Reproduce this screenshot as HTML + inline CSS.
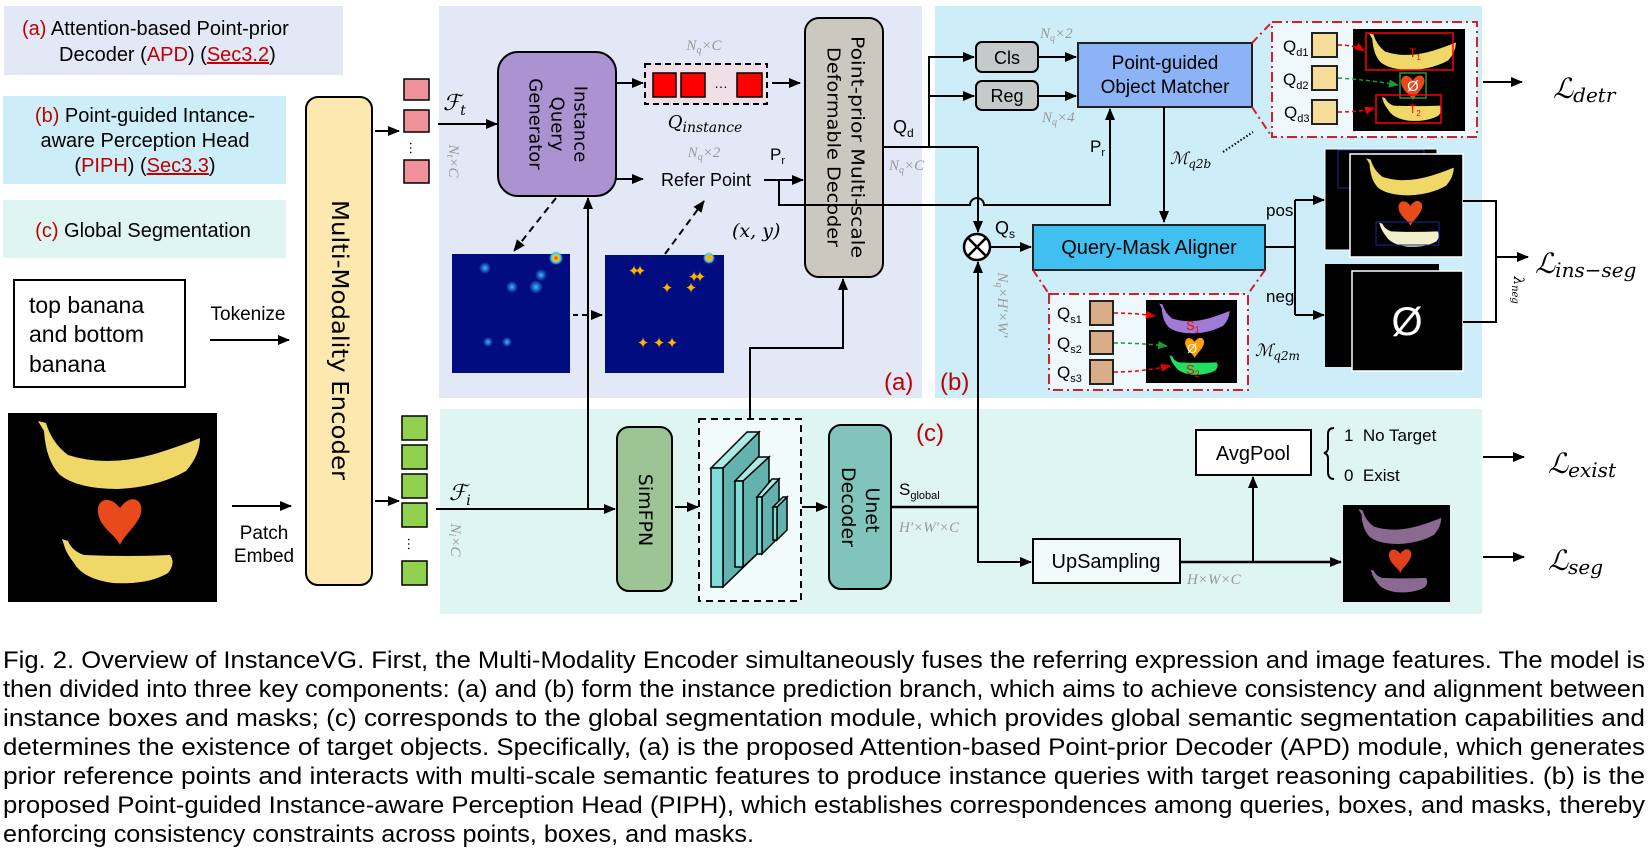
<!DOCTYPE html>
<html><head><meta charset="utf-8"><style>
html,body{margin:0;padding:0;background:#fff;}
svg{display:block;}
.c{font-family:"Liberation Sans","DejaVu Sans",sans-serif;}
.v{font-family:"DejaVu Sans","Liberation Sans",sans-serif;}
.g{font-family:"Liberation Serif","DejaVu Serif",serif;font-style:italic;fill:#999;font-size:15px;}
.m{font-family:"DejaVu Serif","Liberation Serif",serif;}
</style></head><body>
<svg width="1648" height="849" viewBox="0 0 1648 849" xmlns="http://www.w3.org/2000/svg">
<defs>
<marker id="a" markerWidth="12" markerHeight="10" refX="11" refY="5" orient="auto" markerUnits="userSpaceOnUse"><path d="M0,0 L12,5 L0,10 Z" fill="#000"/></marker>
<marker id="ar" markerWidth="10" markerHeight="8" refX="9" refY="4" orient="auto" markerUnits="userSpaceOnUse"><path d="M0,0 L10,4 L0,8 Z" fill="#e00"/></marker>
<marker id="ag" markerWidth="10" markerHeight="8" refX="9" refY="4" orient="auto" markerUnits="userSpaceOnUse"><path d="M0,0 L10,4 L0,8 Z" fill="#1a9a3a"/></marker>
<symbol id="ban" viewBox="0 0 209 189" preserveAspectRatio="none">
<rect width="209" height="189" fill="#000"/>
<path d="M30,8 L38,10 Q44,30 60,42 Q100,55 150,40 Q175,32 192,25 Q192,42 178,58 Q150,74 110,76 Q70,76 52,62 Q38,48 36,18 Z" style="fill:var(--t,#f0d868)"/>
<path d="M112,95 C100,80 88,88 90,100 C92,115 108,122 112,132 C116,122 130,112 133,100 C136,86 122,80 112,95 Z" style="fill:var(--h,#e84a1c)"/>
<path d="M54,126 L60,128 Q64,138 76,142 Q120,144 162,142 Q168,150 160,160 Q140,172 105,170 Q75,166 66,150 Q58,140 56,132 Z" style="fill:var(--b,#f0d868)"/>
</symbol>
<radialGradient id="sp"><stop offset="0" stop-color="#3fb8ff"/><stop offset="1" stop-color="#3fb8ff" stop-opacity="0"/></radialGradient>
<radialGradient id="hot"><stop offset="0" stop-color="#ff2000"/><stop offset="0.4" stop-color="#ffd000"/><stop offset="0.7" stop-color="#30c0ff"/><stop offset="1" stop-color="#30c0ff" stop-opacity="0"/></radialGradient>
</defs>

<rect x="4" y="6" width="339" height="69" fill="#e2e8f5"/>
<text class="c" font-size="20" x="22" y="35"><tspan fill="#c00000">(a)</tspan> Attention-based Point-prior</text>
<text class="c" font-size="20" x="59" y="61">Decoder (<tspan fill="#c00000">APD</tspan>) (<tspan fill="#c00000" text-decoration="underline">Sec3.2</tspan>)</text>
<rect x="3" y="96" width="283" height="88" fill="#cdeef9"/>
<text class="c" font-size="20" x="145" y="122" text-anchor="middle"><tspan fill="#c00000">(b)</tspan> Point-guided Intance-</text>
<text class="c" font-size="20" x="145" y="147" text-anchor="middle">aware Perception Head</text>
<text class="c" font-size="20" x="145" y="172" text-anchor="middle">(<tspan fill="#c00000">PIPH</tspan>) (<tspan fill="#c00000" text-decoration="underline">Sec3.3</tspan>)</text>
<rect x="3" y="200" width="283" height="58" fill="#def5f2"/>
<text class="c" font-size="20" x="143" y="237" text-anchor="middle"><tspan fill="#c00000">(c)</tspan> Global Segmentation</text>

<rect x="14" y="280" width="171" height="107" fill="#fff" stroke="#000" stroke-width="2"/>
<text class="c" font-size="23" x="29" y="313">top banana</text>
<text class="c" font-size="23" x="29" y="342">and bottom</text>
<text class="c" font-size="23" x="29" y="372">banana</text>
<text class="c" font-size="19" x="248" y="320" text-anchor="middle">Tokenize</text>
<line x1="210" y1="340" x2="289" y2="340" stroke="#000" stroke-width="2" marker-end="url(#a)"/>
<use href="#ban" x="8" y="413" width="209" height="189"/>
<text class="c" font-size="19" x="264" y="539" text-anchor="middle">Patch</text>
<text class="c" font-size="19" x="264" y="562" text-anchor="middle">Embed</text>
<line x1="232" y1="506" x2="291" y2="506" stroke="#000" stroke-width="2" marker-end="url(#a)"/>

<rect x="306" y="97" width="66" height="488" rx="12" fill="#fde8b0" stroke="#000" stroke-width="2"/>
<text class="v" font-size="23" transform="translate(339,340) rotate(90)" text-anchor="middle" dominant-baseline="central" textLength="280" lengthAdjust="spacingAndGlyphs">Multi-Modality Encoder</text>

<rect x="439" y="6" width="483" height="392" fill="#e2e8f5"/>
<rect x="935" y="6" width="547" height="392" fill="#cdeef9"/>
<rect x="440" y="409" width="1042" height="205" fill="#def5f2"/>

<line x1="375" y1="131" x2="399" y2="131" stroke="#000" stroke-width="2" marker-end="url(#a)"/>
<rect x="404" y="79" width="25" height="21" fill="#ef929a" stroke="#000" stroke-width="1.5"/>
<rect x="404" y="110" width="25" height="22" fill="#ef929a" stroke="#000" stroke-width="1.5"/>
<text x="416" y="154" font-size="14" text-anchor="middle" transform="rotate(90,416,148)" class="c">…</text>
<rect x="404" y="160" width="25" height="23" fill="#ef929a" stroke="#000" stroke-width="1.5"/>
<line x1="375" y1="501" x2="399" y2="501" stroke="#000" stroke-width="2" marker-end="url(#a)"/>
<rect x="402" y="416" width="25" height="24" fill="#92d050" stroke="#000" stroke-width="1.5"/>
<rect x="402" y="445" width="25" height="24" fill="#92d050" stroke="#000" stroke-width="1.5"/>
<rect x="402" y="474" width="25" height="24" fill="#92d050" stroke="#000" stroke-width="1.5"/>
<rect x="402" y="503" width="25" height="24" fill="#92d050" stroke="#000" stroke-width="1.5"/>
<text x="414" y="550" font-size="14" text-anchor="middle" transform="rotate(90,414,544)" class="c">…</text>
<rect x="402" y="561" width="25" height="24" fill="#92d050" stroke="#000" stroke-width="1.5"/>

<text class="m" font-size="22" x="443" y="110" font-style="italic">ℱ<tspan font-size="14" dy="5">t</tspan></text>
<line x1="438" y1="124" x2="497" y2="124" stroke="#000" stroke-width="2" marker-end="url(#a)"/>
<text class="g" transform="translate(453,161) rotate(90)" text-anchor="middle" dominant-baseline="central">N<tspan font-size="10" dy="3">t</tspan><tspan dy="-3">×C</tspan></text>
<text class="m" font-size="22" x="449" y="500" font-style="italic">ℱ<tspan font-size="14" dy="5">i</tspan></text>
<text class="g" transform="translate(455,540) rotate(90)" text-anchor="middle" dominant-baseline="central">N<tspan font-size="10" dy="3">i</tspan><tspan dy="-3">×C</tspan></text>

<rect x="498" y="52" width="118" height="144" rx="20" fill="#ab92d0" stroke="#000" stroke-width="2"/>
<text class="v" font-size="18" transform="translate(580,124) rotate(90)" text-anchor="middle" dominant-baseline="central">Instance</text>
<text class="v" font-size="18" transform="translate(557,124) rotate(90)" text-anchor="middle" dominant-baseline="central">Query</text>
<text class="v" font-size="18" transform="translate(535,124) rotate(90)" text-anchor="middle" dominant-baseline="central">Generator</text>
<line x1="616" y1="83" x2="643" y2="83" stroke="#000" stroke-width="2" marker-end="url(#a)"/>
<line x1="616" y1="179" x2="643" y2="179" stroke="#000" stroke-width="2" marker-end="url(#a)"/>
<rect x="645" y="64" width="122" height="40" fill="#f1dfe8" stroke="#000" stroke-width="2" stroke-dasharray="6,4"/>
<rect x="653" y="73" width="23" height="24" fill="#f00" stroke="#000" stroke-width="1.5"/>
<rect x="681" y="73" width="24" height="24" fill="#f00" stroke="#000" stroke-width="1.5"/>
<text class="c" font-size="14" x="721" y="88" text-anchor="middle">…</text>
<rect x="737" y="73" width="25" height="24" fill="#f00" stroke="#000" stroke-width="1.5"/>
<line x1="772" y1="83" x2="800" y2="83" stroke="#000" stroke-width="2" marker-end="url(#a)"/>
<text class="g" x="704" y="50" text-anchor="middle">N<tspan font-size="10" dy="3">q</tspan><tspan dy="-3">×C</tspan></text>
<text class="m" font-size="18" x="705" y="128" text-anchor="middle" font-style="italic">Q<tspan font-size="14" dy="4">instance</tspan></text>
<text class="g" x="704" y="157" text-anchor="middle">N<tspan font-size="10" dy="3">q</tspan><tspan dy="-3">×2</tspan></text>
<text class="c" font-size="18" x="706" y="186" text-anchor="middle">Refer Point</text>
<text class="c" font-size="17" x="770" y="160">P<tspan font-size="11" dy="4">r</tspan></text>

<rect x="452" y="254" width="118" height="119" fill="#000c80"/>
<circle cx="485" cy="268" r="6" fill="url(#sp)"/><circle cx="541" cy="275" r="6" fill="url(#sp)"/>
<circle cx="512" cy="287" r="6" fill="url(#sp)"/><circle cx="536" cy="287" r="7" fill="url(#sp)"/>
<circle cx="556" cy="258" r="7" fill="url(#hot)"/>
<circle cx="488" cy="342" r="5" fill="url(#sp)"/><circle cx="507" cy="342" r="5" fill="url(#sp)"/>
<rect x="605" y="255" width="119" height="118" fill="#000c80"/>
<circle cx="709" cy="258" r="6" fill="url(#hot)"/>
<g fill="#ffb000" font-size="15" text-anchor="middle" class="v">
<text x="640" y="276">✦</text><text x="694" y="282">✦</text><text x="667" y="293">✦</text><text x="691" y="293">✦</text><text x="709" y="263">✦</text><text x="700" y="282">✦</text><text x="634" y="276">✦</text>
<text x="643" y="348">✦</text><text x="659" y="348">✦</text><text x="672" y="348">✦</text></g>
<line x1="556" y1="198" x2="514" y2="251" stroke="#000" stroke-width="2" stroke-dasharray="7,5" marker-end="url(#a)"/>
<line x1="665" y1="254" x2="704" y2="201" stroke="#000" stroke-width="2" stroke-dasharray="7,5" marker-end="url(#a)"/>
<line x1="573" y1="315" x2="602" y2="315" stroke="#000" stroke-width="2" stroke-dasharray="5,4" marker-end="url(#a)"/>
<text class="m" font-size="19" x="732" y="237" font-style="italic">(x, y)</text>

<rect x="805" y="18" width="78" height="259" rx="14" fill="#cbc9bf" stroke="#000" stroke-width="2"/>
<text class="v" font-size="18" transform="translate(857,147) rotate(90)" text-anchor="middle" dominant-baseline="central" textLength="222" lengthAdjust="spacingAndGlyphs">Point-prior Multi-scale</text>
<text class="v" font-size="18" transform="translate(833,147) rotate(90)" text-anchor="middle" dominant-baseline="central" textLength="200" lengthAdjust="spacingAndGlyphs">Deformable Decoder</text>
<line x1="764" y1="180" x2="803" y2="180" stroke="#000" stroke-width="2" marker-end="url(#a)"/>
<path d="M779,180 V205 H970 A7,7 0 0 1 984,205 H1110 V109" fill="none" stroke="#000" stroke-width="2" marker-end="url(#a)"/>

<line x1="436" y1="509" x2="615" y2="509" stroke="#000" stroke-width="2" marker-end="url(#a)"/>
<line x1="588" y1="509" x2="588" y2="198" stroke="#000" stroke-width="2" marker-end="url(#a)"/>
<path d="M750,419 V348 H843 V279" fill="none" stroke="#000" stroke-width="2" marker-end="url(#a)"/>

<rect x="617" y="427" width="55" height="164" rx="12" fill="#9cc495" stroke="#000" stroke-width="2"/>
<text class="v" font-size="19" transform="translate(645,510) rotate(90)" text-anchor="middle" dominant-baseline="central">SimFPN</text>
<line x1="675" y1="507" x2="698" y2="507" stroke="#000" stroke-width="2" marker-end="url(#a)"/>
<rect x="699" y="419" width="102" height="182" fill="#f1fbfa" stroke="#000" stroke-width="2" stroke-dasharray="7,5"/>
<g stroke="#000" stroke-width="1.5">
<polygon points="723,468 759,432 759,552 723,587" fill="#62b3ad"/><polygon points="711,468 747,432 759,432 723,468" fill="#a8ecea"/><rect x="711" y="468" width="12" height="119" fill="#7fdcd8"/>
<polygon points="743,481 769,457 769,543 743,567" fill="#62b3ad"/><polygon points="735,481 758,457 769,457 743,481" fill="#a8ecea"/><rect x="735" y="481" width="8" height="86" fill="#7fdcd8"/>
<polygon points="762,497 779,479 779,537 762,554" fill="#62b3ad"/><polygon points="757,497 772,479 779,479 762,497" fill="#a8ecea"/><rect x="757" y="497" width="5" height="57" fill="#7fdcd8"/>
<polygon points="777,507 787,497 787,530 777,540" fill="#62b3ad"/><polygon points="773,507 783,497 787,497 777,507" fill="#a8ecea"/><rect x="773" y="507" width="4" height="33" fill="#7fdcd8"/>
</g>
<line x1="802" y1="507" x2="827" y2="507" stroke="#000" stroke-width="2" marker-end="url(#a)"/>
<rect x="829" y="425" width="62" height="164" rx="12" fill="#80c4bb" stroke="#000" stroke-width="2"/>
<text class="v" font-size="19" transform="translate(872,510) rotate(90)" text-anchor="middle" dominant-baseline="central">Unet</text>
<text class="v" font-size="19" transform="translate(848,507) rotate(90)" text-anchor="middle" dominant-baseline="central">Decoder</text>
<text class="c" font-size="17" x="899" y="495">S<tspan font-size="11" dy="4">global</tspan></text>
<text class="g" x="899" y="532">H′×W′×C</text>
<line x1="891" y1="507" x2="978" y2="507" stroke="#000" stroke-width="2.5"/>
<line x1="978" y1="562" x2="978" y2="262" stroke="#000" stroke-width="2" marker-end="url(#a)"/>
<line x1="977" y1="562" x2="1031" y2="562" stroke="#000" stroke-width="2" marker-end="url(#a)"/>
<text class="c" font-size="24" fill="#c00000" x="916" y="441">(c)</text>
<text class="c" font-size="24" fill="#c00000" x="884" y="390">(a)</text>
<text class="c" font-size="24" fill="#c00000" x="940" y="390">(b)</text>

<rect x="1033" y="539" width="147" height="44" fill="#f1fbfa" stroke="#000" stroke-width="2"/>
<text class="c" font-size="20" x="1106" y="568" text-anchor="middle">UpSampling</text>
<text class="g" x="1187" y="584">H×W×C</text>
<line x1="1180" y1="562" x2="1341" y2="562" stroke="#000" stroke-width="2.5" marker-end="url(#a)"/>
<line x1="1253" y1="562" x2="1253" y2="477" stroke="#000" stroke-width="2" marker-end="url(#a)"/>
<rect x="1196" y="430" width="115" height="45" fill="#fff" stroke="#000" stroke-width="2"/>
<text class="c" font-size="20" x="1253" y="460" text-anchor="middle">AvgPool</text>
<path d="M1334,428 Q1328,428 1328,434 V448 Q1328,452 1324,453 Q1328,454 1328,458 V472 Q1328,479 1334,479" fill="none" stroke="#000" stroke-width="2"/>
<text class="c" font-size="17" x="1344" y="441" xml:space="preserve">1  No Target</text>
<text class="c" font-size="17" x="1344" y="481" xml:space="preserve">0  Exist</text>
<use href="#ban" x="1343" y="505" width="107" height="97" style="--t:#8a6a90;--b:#8a6a90;--h:#e0401c"/>

<line x1="883" y1="147" x2="978" y2="147" stroke="#000" stroke-width="2"/>
<path d="M929,147 V57 H974" fill="none" stroke="#000" stroke-width="2" marker-end="url(#a)"/>
<line x1="929" y1="96" x2="974" y2="96" stroke="#000" stroke-width="2" marker-end="url(#a)"/>
<line x1="978" y1="147" x2="978" y2="232" stroke="#000" stroke-width="2" marker-end="url(#a)"/>
<text class="c" font-size="18" x="893" y="133">Q<tspan font-size="12" dy="4">d</tspan></text>
<text class="g" x="889" y="170">N<tspan font-size="10" dy="3">q</tspan><tspan dy="-3">×C</tspan></text>
<rect x="976" y="42" width="62" height="30" rx="6" fill="#c4c9ca" stroke="#000" stroke-width="2"/>
<text class="c" font-size="18" x="1007" y="64" text-anchor="middle">Cls</text>
<rect x="976" y="81" width="62" height="29" rx="6" fill="#c4c9ca" stroke="#000" stroke-width="2"/>
<text class="c" font-size="18" x="1007" y="102" text-anchor="middle">Reg</text>
<line x1="1038" y1="57" x2="1076" y2="57" stroke="#000" stroke-width="2" marker-end="url(#a)"/>
<line x1="1038" y1="96" x2="1076" y2="96" stroke="#000" stroke-width="2" marker-end="url(#a)"/>
<text class="g" x="1040" y="38">N<tspan font-size="10" dy="3">q</tspan><tspan dy="-3">×2</tspan></text>
<text class="g" x="1042" y="122">N<tspan font-size="10" dy="3">q</tspan><tspan dy="-3">×4</tspan></text>
<rect x="1078" y="43" width="174" height="64" fill="#8db3f7" stroke="#222" stroke-width="2"/>
<text class="c" font-size="19" x="1165" y="69" text-anchor="middle">Point-guided</text>
<text class="c" font-size="19" x="1165" y="93" text-anchor="middle">Object Matcher</text>
<text class="c" font-size="17" x="1090" y="152">P<tspan font-size="11" dy="4">r</tspan></text>
<line x1="1164" y1="107" x2="1164" y2="222" stroke="#000" stroke-width="2" marker-end="url(#a)"/>
<text class="m" font-size="17" x="1170" y="164" font-style="italic">ℳ<tspan font-size="12" dy="4">q2b</tspan></text>
<line x1="1223" y1="152" x2="1253" y2="132" stroke="#000" stroke-width="2" stroke-dasharray="1.5,2"/>

<circle cx="977" cy="247" r="13" fill="#fff" stroke="#000" stroke-width="2.5"/>
<path d="M968,238 L986,256 M986,238 L968,256" stroke="#000" stroke-width="2.5"/>
<text class="c" font-size="18" x="995" y="234">Q<tspan font-size="12" dy="4">s</tspan></text>
<line x1="991" y1="247" x2="1031" y2="247" stroke="#000" stroke-width="2" marker-end="url(#a)"/>
<text class="g" transform="translate(1002,305) rotate(90)" text-anchor="middle" dominant-baseline="central">N<tspan font-size="10" dy="3">q</tspan><tspan dy="-3">×H′×W′</tspan></text>
<rect x="1033" y="225" width="232" height="45" fill="#3fc0f0" stroke="#222" stroke-width="2"/>
<text class="c" font-size="20" x="1149" y="254" text-anchor="middle">Query-Mask Aligner</text>

<path d="M1252,43 L1272,22 M1252,107 L1272,137" stroke="#d0202a" stroke-width="2" stroke-dasharray="8,4,2,4"/>
<rect x="1272" y="22" width="205" height="115" fill="#eef8fd" stroke="#d0202a" stroke-width="2" stroke-dasharray="10,4,2,4"/>
<text class="c" font-size="17" x="1283" y="52">Q<tspan font-size="11" dy="4">d1</tspan></text>
<text class="c" font-size="17" x="1283" y="85">Q<tspan font-size="11" dy="4">d2</tspan></text>
<text class="c" font-size="17" x="1284" y="118">Q<tspan font-size="11" dy="4">d3</tspan></text>
<rect x="1312" y="33" width="25" height="24" fill="#f6dd99" stroke="#222" stroke-width="2"/>
<rect x="1312" y="66" width="25" height="24" fill="#f6dd99" stroke="#222" stroke-width="2"/>
<rect x="1312" y="100" width="25" height="24" fill="#f6dd99" stroke="#222" stroke-width="2"/>
<use href="#ban" x="1353" y="29" width="112" height="102"/>
<rect x="1366" y="33" width="87" height="37" fill="none" stroke="#f00" stroke-width="1.5"/>
<rect x="1400" y="73" width="26" height="25" fill="none" stroke="#1a9a3a" stroke-width="1.5"/>
<rect x="1376" y="95" width="65" height="28" fill="none" stroke="#f00" stroke-width="1.5"/>
<text class="c" font-size="12" x="1409" y="57" fill="#f00">T<tspan font-size="8" dy="3">1</tspan></text>
<text class="c" font-size="12" x="1409" y="113" fill="#f00">T<tspan font-size="8" dy="3">2</tspan></text>
<text class="c" font-size="15" x="1413" y="91" fill="#fff" text-anchor="middle">Ø</text>
<path d="M1338,45 Q1355,45 1364,51" fill="none" stroke="#e00" stroke-width="1.5" stroke-dasharray="4,3" marker-end="url(#ar)"/>
<path d="M1338,78 Q1370,80 1398,85" fill="none" stroke="#1a9a3a" stroke-width="1.5" stroke-dasharray="4,3" marker-end="url(#ag)"/>
<path d="M1338,112 Q1360,112 1374,108" fill="none" stroke="#e00" stroke-width="1.5" stroke-dasharray="4,3" marker-end="url(#ar)"/>
<line x1="1483" y1="82" x2="1522" y2="82" stroke="#000" stroke-width="2" marker-end="url(#a)"/>
<text class="m" font-size="28" x="1553" y="98" font-style="italic">ℒ<tspan font-size="20" dy="4">detr</tspan></text>

<path d="M1033,270 L1049,294 M1265,270 L1248,294" stroke="#d0202a" stroke-width="2" stroke-dasharray="8,4,2,4"/>
<rect x="1049" y="294" width="199" height="96" fill="#eef8fd" stroke="#d0202a" stroke-width="2" stroke-dasharray="10,4,2,4"/>
<text class="c" font-size="17" x="1057" y="319">Q<tspan font-size="11" dy="4">s1</tspan></text>
<text class="c" font-size="17" x="1057" y="349">Q<tspan font-size="11" dy="4">s2</tspan></text>
<text class="c" font-size="17" x="1057" y="378">Q<tspan font-size="11" dy="4">s3</tspan></text>
<rect x="1090" y="301" width="23" height="24" fill="#d9ad88" stroke="#222" stroke-width="2"/>
<rect x="1090" y="331" width="23" height="23" fill="#d9ad88" stroke="#222" stroke-width="2"/>
<rect x="1090" y="360" width="23" height="24" fill="#d9ad88" stroke="#222" stroke-width="2"/>
<use href="#ban" x="1146" y="300" width="91" height="83" style="--t:#a07ad8;--h:#ffa000;--b:#20e060"/>
<text class="c" font-size="13" x="1186" y="330" fill="#f00">S<tspan font-size="9" dy="3">1</tspan></text>
<text class="c" font-size="13" x="1186" y="374" fill="#f00">S<tspan font-size="9" dy="3">2</tspan></text>
<text class="c" font-size="13" x="1192" y="353" fill="#fff" text-anchor="middle">Ø</text>
<path d="M1114,313 Q1135,313 1155,316" fill="none" stroke="#e00" stroke-width="1.5" stroke-dasharray="4,3" marker-end="url(#ar)"/>
<path d="M1114,343 Q1140,343 1167,346" fill="none" stroke="#1a9a3a" stroke-width="1.5" stroke-dasharray="4,3" marker-end="url(#ag)"/>
<path d="M1114,372 Q1140,372 1170,366" fill="none" stroke="#e00" stroke-width="1.5" stroke-dasharray="4,3" marker-end="url(#ar)"/>
<text class="m" font-size="17" x="1255" y="356" font-style="italic">ℳ<tspan font-size="12" dy="4">q2m</tspan></text>

<path d="M1265,247 H1295 M1295,200 V315 M1295,200 H1322 M1295,315 H1322" fill="none" stroke="#000" stroke-width="2"/>
<line x1="1310" y1="200" x2="1324" y2="200" stroke="#000" stroke-width="2" marker-end="url(#a)"/>
<line x1="1310" y1="315" x2="1324" y2="315" stroke="#000" stroke-width="2" marker-end="url(#a)"/>
<text class="c" font-size="17" x="1266" y="216">pos</text>
<text class="c" font-size="17" x="1266" y="302">neg</text>
<rect x="1325" y="149" width="112" height="101" fill="#000" stroke="#fff" stroke-width="1"/>
<rect x="1338" y="150" width="86" height="38" fill="none" stroke="#1a2a9a" stroke-width="1"/>
<use href="#ban" x="1350" y="154" width="113" height="103" style="--b:#f2f0c8"/>
<rect x="1350" y="154" width="113" height="103" fill="none" stroke="#fff" stroke-width="1.5"/>
<rect x="1376" y="222" width="63" height="23" fill="none" stroke="#1a2a9a" stroke-width="1"/>
<rect x="1325" y="264" width="114" height="103" fill="#000"/>
<rect x="1352" y="271" width="111" height="100" fill="#000" stroke="#fff" stroke-width="1.5"/>
<text class="c" font-size="40" x="1407" y="335" fill="#fff" text-anchor="middle">Ø</text>
<path d="M1463,201 H1496 V322 H1463" fill="none" stroke="#000" stroke-width="2"/>
<line x1="1496" y1="257" x2="1528" y2="257" stroke="#000" stroke-width="2" marker-end="url(#a)"/>
<text class="m" font-size="14" font-style="italic" transform="translate(1518,290) rotate(90)" text-anchor="middle" dominant-baseline="central">λ<tspan font-size="10" dy="3">neg</tspan></text>
<text class="m" font-size="28" x="1535" y="273" font-style="italic">ℒ<tspan font-size="20" dy="4">ins−seg</tspan></text>

<line x1="1483" y1="457" x2="1524" y2="457" stroke="#000" stroke-width="2" marker-end="url(#a)"/>
<text class="m" font-size="28" x="1548" y="473" font-style="italic">ℒ<tspan font-size="20" dy="4">exist</tspan></text>
<line x1="1483" y1="557" x2="1524" y2="557" stroke="#000" stroke-width="2" marker-end="url(#a)"/>
<text class="m" font-size="28" x="1548" y="570" font-style="italic">ℒ<tspan font-size="20" dy="4">seg</tspan></text>

<g class="c" font-size="24" fill="#000">
<text x="3" y="668" textLength="1642" lengthAdjust="spacingAndGlyphs">Fig. 2. Overview of InstanceVG. First, the Multi-Modality Encoder simultaneously fuses the referring expression and image features. The model is</text>
<text x="3" y="697" textLength="1642" lengthAdjust="spacingAndGlyphs">then divided into three key components: (a) and (b) form the instance prediction branch, which aims to achieve consistency and alignment between</text>
<text x="3" y="726" textLength="1642" lengthAdjust="spacingAndGlyphs">instance boxes and masks; (c) corresponds to the global segmentation module, which provides global semantic segmentation capabilities and</text>
<text x="3" y="755" textLength="1642" lengthAdjust="spacingAndGlyphs">determines the existence of target objects. Specifically, (a) is the proposed Attention-based Point-prior Decoder (APD) module, which generates</text>
<text x="3" y="784" textLength="1642" lengthAdjust="spacingAndGlyphs">prior reference points and interacts with multi-scale semantic features to produce instance queries with target reasoning capabilities. (b) is the</text>
<text x="3" y="813" textLength="1642" lengthAdjust="spacingAndGlyphs">proposed Point-guided Instance-aware Perception Head (PIPH), which establishes correspondences among queries, boxes, and masks, thereby</text>
<text x="3" y="842" textLength="751" lengthAdjust="spacingAndGlyphs">enforcing consistency constraints across points, boxes, and masks.</text>
</g>
</svg>
</body></html>
